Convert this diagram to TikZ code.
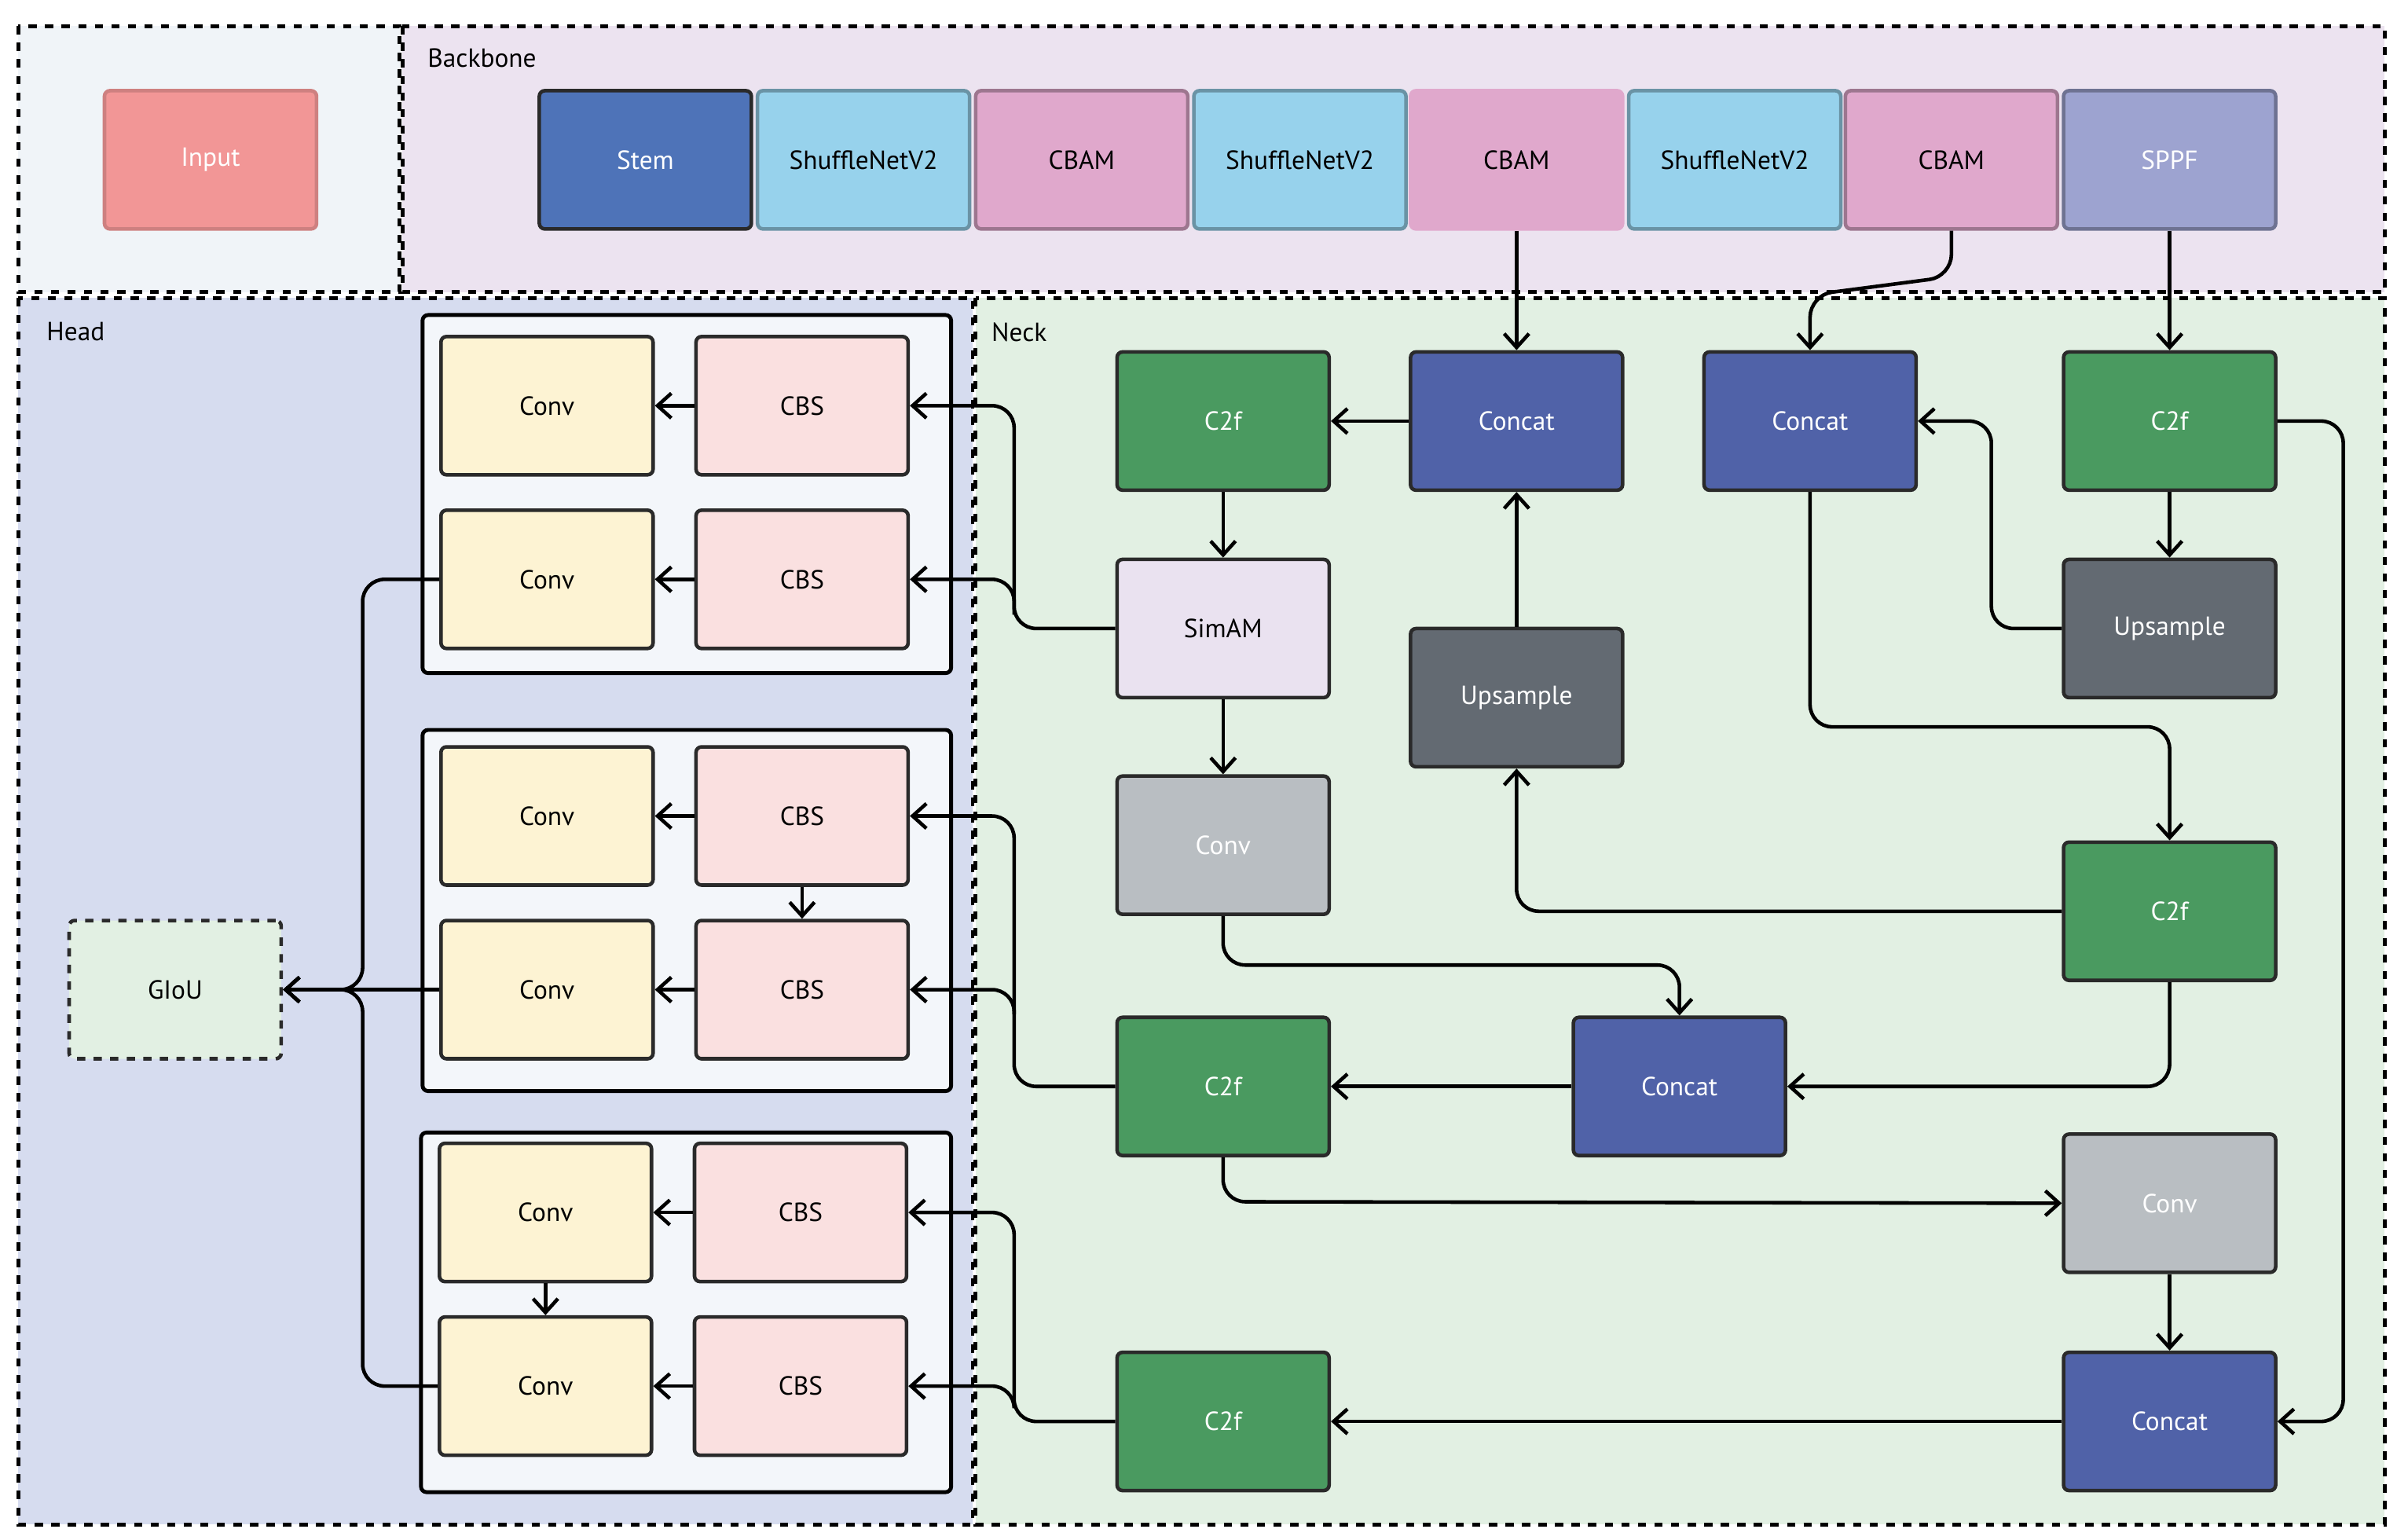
\documentclass[tikz,border=0pt]{standalone}
\usepackage{fontspec}
\setmainfont{PT Sans}
\usetikzlibrary{arrows.meta}
\definecolor{cIn}{HTML}{F29696}
\definecolor{cStem}{HTML}{4E73B8}
\definecolor{cSh}{HTML}{97D2EC}
\definecolor{cCb}{HTML}{E0A8CC}
\definecolor{cSp}{HTML}{9DA3D0}
\definecolor{cCat}{HTML}{5062A8}
\definecolor{cC2}{HTML}{4A9A60}
\definecolor{cSim}{HTML}{EAE2F0}
\definecolor{cUp}{HTML}{636A72}
\definecolor{cGc}{HTML}{B9BEC2}
\definecolor{cConv}{HTML}{FDF3D3}
\definecolor{cCBS}{HTML}{FAE0E0}
\definecolor{rBack}{HTML}{ECE3F0}
\definecolor{rIn}{HTML}{F0F4F8}
\definecolor{rHead}{HTML}{D6DCEF}
\definecolor{rNeck}{HTML}{E2F0E3}
\definecolor{rGrp}{HTML}{F3F6FA}
\definecolor{edge}{HTML}{2A2A2A}
\begin{document}
\begin{tikzpicture}[x=0.01956cm,y=-0.01956cm,
  font=\fontsize{9.5}{11}\selectfont,
  region/.style={draw=black,dashed,line width=1.4pt},
  box/.style={draw=edge,line width=1.3pt,rounded corners=2pt,minimum width=2.70cm,minimum height=1.76cm,inner sep=0pt},
  wt/.style={text=white},
  conn/.style={line width=1.3pt,-{Straight Barb[length=5pt,width=9pt]},rounded corners=8pt},
  lbl/.style={anchor=west,inner sep=0pt}]
\useasboundingbox (0,0) rectangle (1560,1002);
% regions
\fill[rIn] (12,17) rectangle (260,190);
\draw[region] (12,17) rectangle (260,190);
\fill[rBack] (262,17) rectangle (1552,190);
\draw[region] (262,17) rectangle (1552,190);
\fill[rHead] (12,194) rectangle (633,992);
\draw[region] (12,194) rectangle (633,992);
\fill[rNeck] (635,194) rectangle (1552,992);
\draw[region] (635,194) rectangle (1552,992);
\node[lbl] (lb) at (278,38) {Backbone};
\node[lbl] (lh) at (30,216) {Head};
\node[lbl] (ln) at (645,216) {Neck};
% input/backbone
\node[box,fill=cIn,draw=cIn!85!black,wt] (inp) at (137,104) {Input};
\node[box,fill=cStem,wt] (stem) at (420,104) {Stem};
\node[box,fill=cSh,draw=cSh!70!black] (sh1) at (562,104) {ShuffleNetV2};
\node[box,fill=cCb,draw=cCb!70!black] (cb1) at (704,104) {CBAM};
\node[box,fill=cSh,draw=cSh!70!black] (sh2) at (846,104) {ShuffleNetV2};
\node[box,fill=cCb,draw=cCb] (cb2) at (987,104) {CBAM};
\node[box,fill=cSh,draw=cSh!70!black] (sh3) at (1129,104) {ShuffleNetV2};
\node[box,fill=cCb,draw=cCb!70!black] (cb3) at (1270,104) {CBAM};
\node[box,fill=cSp,draw=cSp!70!black,wt] (sppf) at (1412,104) {SPPF};
% neck
\node[box,fill=cCat,wt] (cat1) at (987,274) {Concat};
\node[box,fill=cC2,wt] (c2a) at (796,274) {C2f};
\node[box,fill=cCat,wt] (cat2) at (1178,274) {Concat};
\node[box,fill=cC2,wt] (c2b) at (1412,274) {C2f};
\node[box,fill=cSim] (sim) at (796,409) {SimAM};
\node[box,fill=cUp,wt] (up1) at (987,454) {Upsample};
\node[box,fill=cUp,wt] (up2) at (1412,409) {Upsample};
\node[box,fill=cGc,wt] (gc1) at (796,550) {Conv};
\node[box,fill=cC2,wt] (c2c) at (1412,593) {C2f};
\node[box,fill=cCat,wt] (cat3) at (1093,707) {Concat};
\node[box,fill=cC2,wt] (c2d) at (796,707) {C2f};
\node[box,fill=cGc,wt] (gc2) at (1412,783) {Conv};
\node[box,fill=cCat,wt] (cat4) at (1412,925) {Concat};
\node[box,fill=cC2,wt] (c2e) at (796,925) {C2f};
% head groups
\draw[fill=rGrp,draw=black,line width=1.4pt,rounded corners=2pt] (275,205) rectangle (619,438);
\draw[fill=rGrp,draw=black,line width=1.4pt,rounded corners=2pt] (275,475) rectangle (619,710);
\draw[fill=rGrp,draw=black,line width=1.4pt,rounded corners=2pt] (274,737) rectangle (619,971);
\node[box,fill=cConv] (v11) at (356,264) {Conv};
\node[box,fill=cCBS] (s11) at (522,264) {CBS};
\node[box,fill=cConv] (v12) at (356,377) {Conv};
\node[box,fill=cCBS] (s12) at (522,377) {CBS};
\node[box,fill=cConv] (v21) at (356,531) {Conv};
\node[box,fill=cCBS] (s21) at (522,531) {CBS};
\node[box,fill=cConv] (v22) at (356,644) {Conv};
\node[box,fill=cCBS] (s22) at (522,644) {CBS};
\node[box,fill=cConv] (v31) at (355,789) {Conv};
\node[box,fill=cCBS] (s31) at (521,789) {CBS};
\node[box,fill=cConv] (v32) at (355,902) {Conv};
\node[box,fill=cCBS] (s32) at (521,902) {CBS};
\node[box,fill=rNeck,dashed] (giou) at (114,644) {GIoU};
% backbone to neck
\draw[conn] (cb2.south) -- (cat1.north);
\draw[conn] (cb3.south) -- (1270,180) -- (1178,192) -- (cat2.north);
\draw[conn] (sppf.south) -- (c2b.north);
% neck
\draw[conn] (cat1.west) -- (c2a.east);
\draw[conn] (c2a.south) -- (sim.north);
\draw[conn] (sim.south) -- (gc1.north);
\draw[conn] (up1.north) -- (cat1.south);
\draw[conn] (c2b.south) -- (up2.north);
\draw[conn] (up2.west) -- (1296,409) -- (1296,274) -- (cat2.east);
\draw[conn] (cat2.south) -- (1178,473) -- (1412,473) -- (c2c.north);
\draw[conn] (c2c.west) -- (987,593) -- (up1.south);
\draw[conn] (gc1.south) -- (796,628) -- (1093,628) -- (cat3.north);
\draw[conn] (c2c.south) -- (1412,707) -- (cat3.east);
\draw[conn] (cat3.west) -- (c2d.east);
\draw[conn] (c2d.south) -- (796,782) -- (gc2.west);
\draw[conn] (gc2.south) -- (cat4.north);
\draw[conn] (c2b.east) -- (1525,274) -- (1525,925) -- (cat4.east);
\draw[conn] (cat4.west) -- (c2e.east);
% neck to head
\draw[conn] (sim.west) -- (660,409) -- (660,264) -- (s11.east);
\draw[conn] (660,400) -- (660,377) -- (s12.east);
\draw[conn] (c2d.west) -- (660,707) -- (660,531) -- (s21.east);
\draw[conn] (660,660) -- (660,644) -- (s22.east);
\draw[conn] (c2e.west) -- (660,925) -- (660,789) -- (s31.east);
\draw[conn] (660,915) -- (660,902) -- (s32.east);
% head internal
\draw[conn] (s11.west) -- (v11.east);
\draw[conn] (s12.west) -- (v12.east);
\draw[conn] (s21.west) -- (v21.east);
\draw[conn] (s22.west) -- (v22.east);
\draw[conn] (s31.west) -- (v31.east);
\draw[conn] (s32.west) -- (v32.east);
\draw[conn] (s21.south) -- (s22.north);
\draw[conn] (v31.south) -- (v32.north);
% to GIoU
\draw[conn] (v12.west) -- (236,377) -- (236,644) -- (giou.east);
\draw[conn] (v22.west) -- (giou.east);
\draw[conn] (v32.west) -- (236,902) -- (236,644) -- (giou.east);
\end{tikzpicture}
\end{document}
